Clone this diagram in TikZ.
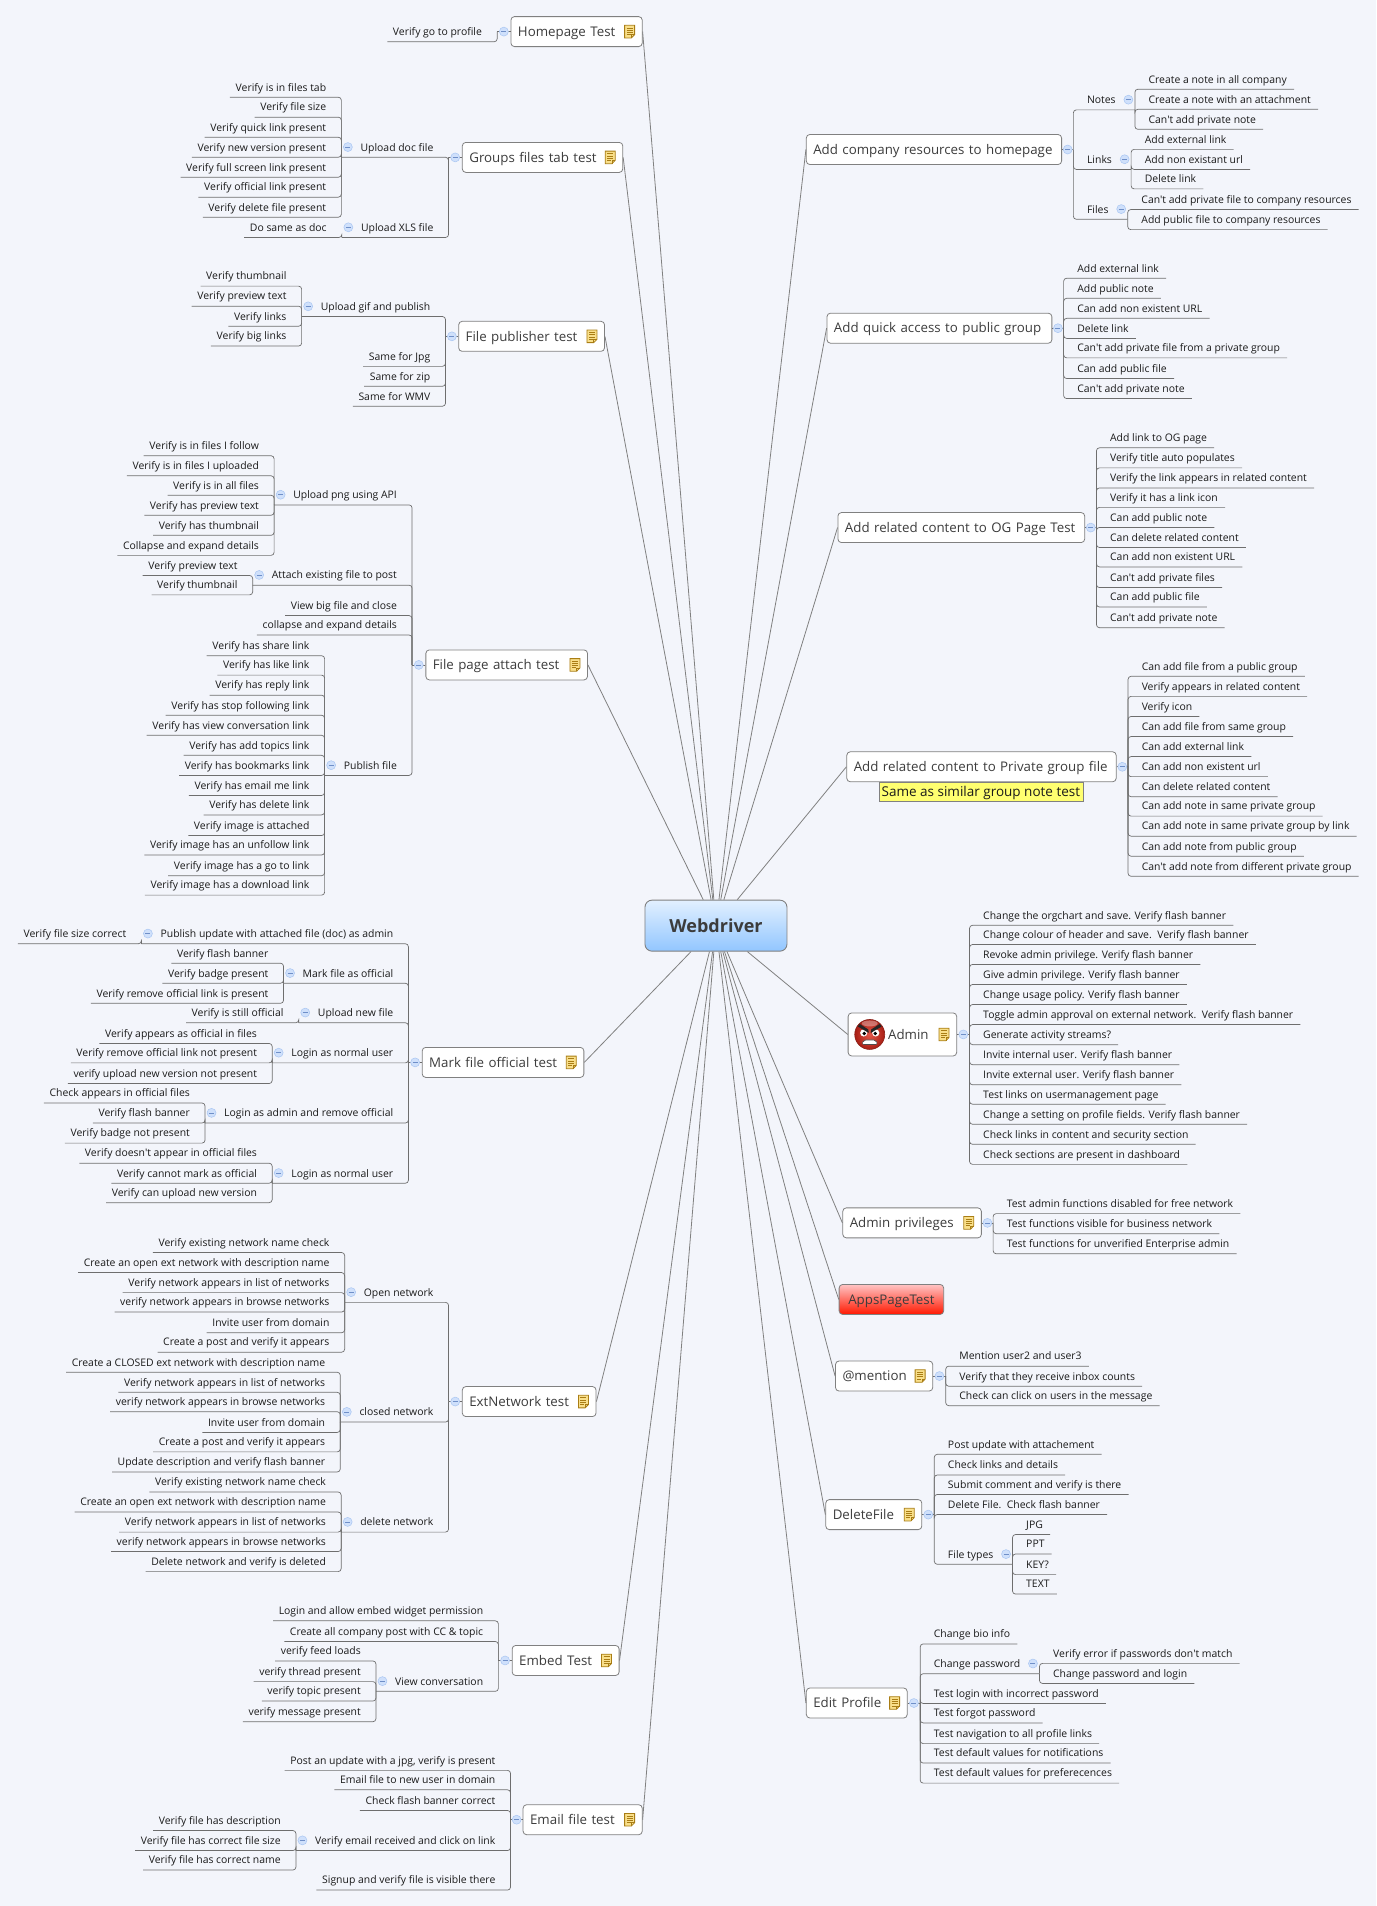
\documentclass[tikz,border=0pt]{standalone}
\usepackage{fontspec}
\usetikzlibrary{calc}
\setmainfont{Open Sans}[Ligatures=TeXOff]
\definecolor{bgc}{HTML}{F3F5FB}
\definecolor{linec}{HTML}{6E6E6E}
\definecolor{rootl}{HTML}{808080}
\definecolor{txtc}{HTML}{1A1A1A}
\definecolor{topc}{HTML}{3C3C3C}
\definecolor{collf}{HTML}{CFE0FB}
\definecolor{colld}{HTML}{A9C6F2}
\definecolor{colln}{HTML}{6F8FC8}
\definecolor{HTMLltblue}{HTML}{E2F0FF}
\definecolor{HTMLblue}{HTML}{92C6FF}
\definecolor{HTMLpink}{HTML}{FFC4C4}
\definecolor{HTMLred}{HTML}{FF1800}
\definecolor{HTMLyellow}{HTML}{FFFF70}
\definecolor{HTMLnote}{HTML}{F9DF8A}
\definecolor{HTMLnoted}{HTML}{A97D14}
\definecolor{HTMLfacel}{HTML}{E4584A}
\definecolor{HTMLfaced}{HTML}{A81E14}
\definecolor{HTMLfacee}{HTML}{8A2018}
\tikzset{
  conn/.style={draw=linec,line width=.7pt,rounded corners=3pt},
  rootline/.style={draw=rootl,line width=.8pt},
  leafbase/.style={inner xsep=0pt,inner ysep=0pt,yshift=-4pt,text=txtc,
    font=\fontsize{10.42}{12}\selectfont,text height=8pt,text depth=6pt},
  leafr/.style={leafbase,anchor=base west,
    execute at begin node={\hspace*{13.5pt}},execute at end node={\hspace*{7pt}}},
  leafl/.style={leafbase,anchor=base east,
    execute at begin node={\hspace*{5.5pt}},execute at end node={\hspace*{15pt}}},
  parr/.style={leafbase,anchor=base west,execute at begin node={\hspace*{13.5pt}},execute at end node={\hspace*{19pt}}},
  parl/.style={leafbase,anchor=base east,execute at begin node={\hspace*{19pt}},execute at end node={\hspace*{15pt}}},
  topic/.style={draw=rootl,line width=.8pt,rounded corners=3.5pt,fill=white,minimum height=30pt,
    inner xsep=7pt,inner ysep=0pt,align=left,text=topc,text height=9.4pt,text depth=0pt,font=\fontsize{13.3}{16}\selectfont},
  coll/.style={circle,draw=colld,fill=collf,line width=.5pt,minimum size=9pt,inner sep=0pt,
    path picture={\draw[colln,line width=.6pt] ([xshift=-2.5pt]path picture bounding box.center) -- ([xshift=2.5pt]path picture bounding box.center);}},
  rootnode/.style={draw=rootl,line width=.9pt,rounded corners=7pt,top color=HTMLltblue,bottom color=HTMLblue,
    minimum width=142pt,minimum height=51pt,inner sep=0pt,text=topc,font=\fontsize{18}{22}\selectfont\bfseries},
  appsnode/.style={draw=rootl,line width=.8pt,rounded corners=3.5pt,top color=HTMLpink,bottom color=HTMLred,
    minimum height=30pt,minimum width=104.5pt,inner sep=0pt,text=topc,text height=9.4pt,text depth=0pt,font=\fontsize{13.3}{16}\selectfont},
  notelabel/.style={draw=rootl,line width=.5pt,fill=HTMLyellow,minimum height=19pt,minimum width=204pt,inner sep=0pt,
    text=txtc,text height=9.6pt,text depth=0pt,font=\fontsize{13.5}{16}\selectfont},
  noteicon/.pic={
    \path[fill=HTMLnote,draw=HTMLnoted,line width=.8pt] (-5pt,6.3pt) -- (5pt,6.3pt) -- (5pt,-3pt) -- (1.8pt,-6.3pt) -- (-5pt,-6.3pt) -- cycle;
    \draw[HTMLnoted,line width=.6pt] (-3pt,3.8pt) -- (3pt,3.8pt) (-3pt,1.6pt) -- (3pt,1.6pt) (-3pt,-.6pt) -- (3pt,-.6pt) (-3pt,-2.8pt) -- (1pt,-2.8pt);
    \draw[HTMLnoted,line width=.6pt] (1.8pt,-6.3pt) -- (1.8pt,-3pt) -- (5pt,-3pt);
  },
  angryface/.pic={
    \shade[inner color=HTMLfacel,outer color=HTMLfaced] (0,0) circle[radius=15pt];
    \draw[HTMLfacee,line width=.6pt] (0,0) circle[radius=15pt];
    \fill[white,opacity=.35] (0,11pt) ellipse[x radius=8pt,y radius=3pt];
    \fill[white] (-6pt,1.5pt) circle[radius=3.6pt] (6pt,1.5pt) circle[radius=3.6pt];
    \fill[black] (-5.5pt,1pt) circle[radius=1.8pt] (5.5pt,1pt) circle[radius=1.8pt];
    \fill[black!85] (-12pt,8pt) -- (-1pt,1.5pt) -- (-1.5pt,5pt) -- (-10pt,10.5pt) -- cycle;
    \fill[black!85] (12pt,8pt) -- (1pt,1.5pt) -- (1.5pt,5pt) -- (10pt,10.5pt) -- cycle;
    \fill[white,draw=black!70,line width=.6pt,rounded corners=2pt] (-8pt,-10pt) -- (-6pt,-5.5pt) -- (6pt,-5.5pt) -- (8pt,-10pt) -- cycle;
  }
}
% leaf and parent-leaf macros: name, trunk point, text centre y, text
\newcommand{\lfR}[4]{\node[leafr] (#1) at (#2 |- 0,#3) {#4};\draw[conn] (#2) |- (#1.south east);}
\newcommand{\lfL}[4]{\node[leafl] (#1) at (#2 |- 0,#3) {#4};\draw[conn] (#2) |- (#1.south west);}
\newcommand{\prR}[4]{\node[parr] (#1) at (#2 |- 0,#3) {#4};\draw[conn] (#2) |- (#1.south east);
  \node[coll] (#1c) at ([xshift=-6.5pt,yshift=4pt]#1.base east) {};}
\newcommand{\prL}[4]{\node[parl] (#1) at (#2 |- 0,#3) {#4};\draw[conn] (#2) |- (#1.south west);
  \node[coll] (#1c) at ([xshift=6.5pt,yshift=4pt]#1.base west) {};}
% topics: name, left, right, y, text, trunk
\newcommand{\topL}[6]{%
  \pgfmathsetlengthmacro\tpw{(#3-#2)*1.2155pt-14pt}%
  \node[topic,text width=\tpw,anchor=west] (#1) at (#2,#4) {#5};
  \draw[rootline] (root) -- (#1.east);
  \pic at ([xshift=-13pt]#1.east) {noteicon};
  \coordinate (#1t) at (#6,#4);
  \draw[conn] (#1.west) -- (#1t);
  \node[coll] (#1c) at ($(#1.west)!.5!(#1t)$) {};}
\newcommand{\topR}[7]{%
  \pgfmathsetlengthmacro\tpw{(#3-#2)*1.2155pt-14pt}%
  \node[topic,text width=\tpw,anchor=west] (#1) at (#2,#4) {#5};
  \draw[rootline] (root) -- (#1.west);
  \ifx#7y\pic at ([xshift=-13pt]#1.east) {noteicon};\fi
  \coordinate (#1t) at (#6,#4);
  \draw[conn] (#1.east) -- (#1t);
  \node[coll] (#1c) at ($(#1.east)!.5!(#1t)$) {};}
\begin{document}
\begin{tikzpicture}[x=1.2155pt,y=-1.2155pt]
\fill[bgc] (0,0) rectangle (1132,1568);
\useasboundingbox (0,0) rectangle (1132,1568);
\node[rootnode] (root) at (589,761.5) {Webdriver};
% ---- left side ----
\topL{hp}{420}{528}{26}{Homepage Test}{409}
\lfL{hpa}{hpt}{26}{Verify go to profile}

\topL{gf}{380}{512}{129.5}{Groups files tab test}{369}
\prL{gfa}{gft}{121}{Upload doc file}
\lfL{gfa1}{gfa.south west}{71.6}{Verify is in files tab}
\lfL{gfa2}{gfa.south west}{88}{Verify file size}
\lfL{gfa3}{gfa.south west}{104.5}{Verify quick link present}
\lfL{gfa4}{gfa.south west}{121}{Verify new version present}
\lfL{gfa5}{gfa.south west}{137.4}{Verify full screen link present}
\lfL{gfa6}{gfa.south west}{153.8}{Verify official link present}
\lfL{gfa7}{gfa.south west}{170.3}{Verify delete file present}
\prL{gfb}{gft}{187}{Upload XLS file}
\lfL{gfb1}{gfb.south west}{187}{Do same as doc}

\topL{fp}{377}{497}{276.7}{File publisher test}{366.5}
\prL{fpa}{fpt}{252}{Upload gif and publish}
\lfL{fpa1}{fpa.south west}{227}{Verify thumbnail}
\lfL{fpa2}{fpa.south west}{243.5}{Verify preview text}
\lfL{fpa3}{fpa.south west}{260}{Verify links}
\lfL{fpa4}{fpa.south west}{276.3}{Verify big links}
\lfL{fpb}{fpt}{293}{Same for Jpg}
\lfL{fpc}{fpt}{309.4}{Same for zip}
\lfL{fpd}{fpt}{325.8}{Same for WMV}

\topL{pa}{350}{483}{547}{File page attach test}{339}
\prL{paa}{pat}{407}{Upload png using API}
\lfL{paa1}{paa.south west}{366.5}{Verify is in files I follow}
\lfL{paa2}{paa.south west}{383}{Verify is in files I uploaded}
\lfL{paa3}{paa.south west}{399}{Verify is in all files}
\lfL{paa4}{paa.south west}{415.5}{Verify has preview text}
\lfL{paa5}{paa.south west}{432}{Verify has thumbnail}
\lfL{paa6}{paa.south west}{448.5}{Collapse and expand details}
\prL{pab}{pat}{473}{Attach existing file to post}
\lfL{pab1}{pab.south west}{465}{Verify preview text}
\lfL{pab2}{pab.south west}{481}{Verify thumbnail}
\lfL{pac}{pat}{498}{View big file and close}
\lfL{pad}{pat}{514}{collapse and expand details}
\prL{pae}{pat}{629.5}{Publish file}
\lfL{pae1}{pae.south west}{531}{Verify has share link}
\lfL{pae2}{pae.south west}{547}{Verify has like link}
\lfL{pae3}{pae.south west}{563.5}{Verify has reply link}
\lfL{pae4}{pae.south west}{580}{Verify has stop following link}
\lfL{pae5}{pae.south west}{596.5}{Verify has view conversation link}
\lfL{pae6}{pae.south west}{613}{Verify has add topics link}
\lfL{pae7}{pae.south west}{629.5}{Verify has bookmarks link}
\lfL{pae8}{pae.south west}{646}{Verify has email me link}
\lfL{pae9}{pae.south west}{662}{Verify has delete link}
\lfL{pae10}{pae.south west}{679}{Verify image is attached}
\lfL{pae11}{pae.south west}{695}{Verify image has an unfollow link}
\lfL{pae12}{pae.south west}{712}{Verify image has a go to link}
\lfL{pae13}{pae.south west}{728}{Verify image has a download link}

\topL{mk}{347}{480}{874}{Mark file official test}{336}
\prL{mka}{mkt}{768}{Publish update with attached file (doc) as admin}
\lfL{mka1}{mka.south west}{768}{Verify file size correct}
\prL{mkb}{mkt}{800.5}{Mark file as official}
\lfL{mkb1}{mkb.south west}{784}{Verify flash banner}
\lfL{mkb2}{mkb.south west}{800.5}{Verify badge present}
\lfL{mkb3}{mkb.south west}{817}{Verify remove official link is present}
\prL{mkc}{mkt}{833}{Upload new file}
\lfL{mkc1}{mkc.south west}{833}{Verify is still official}
\prL{mkd}{mkt}{866}{Login as normal user}
\lfL{mkd1}{mkd.south west}{850}{Verify appears as official in files}
\lfL{mkd2}{mkd.south west}{866}{Verify remove official link not present}
\lfL{mkd3}{mkd.south west}{883}{verify upload new version not present}
\prL{mke}{mkt}{915.5}{Login as admin and remove official}
\lfL{mke1}{mke.south west}{899}{Check appears in official files}
\lfL{mke2}{mke.south west}{915.5}{Verify flash banner}
\lfL{mke3}{mke.south west}{932}{Verify badge not present}
\prL{mkf}{mkt}{965}{Login as normal user}
\lfL{mkf1}{mkf.south west}{948.5}{Verify doesn't appear in official files}
\lfL{mkf2}{mkf.south west}{965}{Verify cannot mark as official}
\lfL{mkf3}{mkf.south west}{981}{Verify can upload new version}

\topL{en}{380}{490}{1153}{ExtNetwork test}{369}
\prL{ena}{ent}{1063}{Open network}
\lfL{ena1}{ena.south west}{1022}{Verify existing network name check}
\lfL{ena2}{ena.south west}{1038.5}{Create an open ext network with description name}
\lfL{ena3}{ena.south west}{1055}{Verify network appears in list of networks}
\lfL{ena4}{ena.south west}{1071}{verify network appears in browse networks}
\lfL{ena5}{ena.south west}{1088}{Invite user from domain}
\lfL{ena6}{ena.south west}{1104}{Create a post and verify it appears}
\prL{enb}{ent}{1161.5}{closed network}
\lfL{enb1}{enb.south west}{1120.5}{Create a CLOSED ext network with description name}
\lfL{enb2}{enb.south west}{1137}{Verify network appears in list of networks}
\lfL{enb3}{enb.south west}{1153}{verify network appears in browse networks}
\lfL{enb4}{enb.south west}{1170}{Invite user from domain}
\lfL{enb5}{enb.south west}{1186}{Create a post and verify it appears}
\lfL{enb6}{enb.south west}{1202.5}{Update description and verify flash banner}
\prL{enc}{ent}{1252}{delete network}
\lfL{enc1}{enc.south west}{1219}{Verify existing network name check}
\lfL{enc2}{enc.south west}{1235.5}{Create an open ext network with description name}
\lfL{enc3}{enc.south west}{1252}{Verify network appears in list of networks}
\lfL{enc4}{enc.south west}{1268}{verify network appears in browse networks}
\lfL{enc5}{enc.south west}{1284.5}{Delete network and verify is deleted}

\topL{eb}{421}{509}{1366}{Embed Test}{410}
\lfL{eba}{ebt}{1325}{Login and allow embed widget permission}
\lfL{ebb}{ebt}{1342}{Create all company post with CC \& topic}
\prL{ebc}{ebt}{1383}{View conversation}
\lfL{ebc1}{ebc.south west}{1358}{verify feed loads}
\lfL{ebc2}{ebc.south west}{1375}{verify thread present}
\lfL{ebc3}{ebc.south west}{1391}{verify topic present}
\lfL{ebc4}{ebc.south west}{1408}{verify message present}

\topL{em}{430}{528}{1497}{Email file test}{420}
\lfL{ema}{emt}{1448}{Post an update with a jpg, verify is present}
\lfL{emb}{emt}{1464}{Email file to new user in domain}
\lfL{emc}{emt}{1481}{Check flash banner correct}
\prL{emd}{emt}{1514}{Verify email received and click on link}
\lfL{emd1}{emd.south west}{1497.5}{Verify file has description}
\lfL{emd2}{emd.south west}{1514}{Verify file has correct file size}
\lfL{emd3}{emd.south west}{1530}{Verify file has correct name}
\lfL{eme}{emt}{1546.5}{Signup and verify file is visible there}

% ---- right side ----
\topR{ac}{663}{873}{123}{Add company resources to homepage}{883}{n}
\prR{aca}{act}{82}{Notes}
\lfR{aca1}{aca.south east}{65}{Create a note in all company}
\lfR{aca2}{aca.south east}{81.5}{Create a note with an attachment}
\lfR{aca3}{aca.south east}{98}{Can't add private note}
\prR{acb}{act}{131}{Links}
\lfR{acb1}{acb.south east}{114.5}{Add external link}
\lfR{acb2}{acb.south east}{131}{Add non existant url}
\lfR{acb3}{acb.south east}{147}{Delete link}
\prR{acc}{act}{172}{Files}
\lfR{acc1}{acc.south east}{164}{Can't add private file to company resources}
\lfR{acc2}{acc.south east}{180.5}{Add public file to company resources}

\topR{aq}{680}{865}{270}{Add quick access to public group}{875}{n}
\lfR{aq1}{aqt}{220.5}{Add external link}
\lfR{aq2}{aqt}{237}{Add public note}
\lfR{aq3}{aqt}{253.5}{Can add non existent URL}
\lfR{aq4}{aqt}{270}{Delete link}
\lfR{aq5}{aqt}{286}{Can't add private file from a private group}
\lfR{aq6}{aqt}{303}{Can add public file}
\lfR{aq7}{aqt}{319.5}{Can't add private note}

\topR{og}{689}{892}{434}{Add related content to OG Page Test}{902}{n}
\lfR{og1}{ogt}{360}{Add link to OG page}
\lfR{og2}{ogt}{376.5}{Verify title auto populates}
\lfR{og3}{ogt}{393}{Verify the link appears in related content}
\lfR{og4}{ogt}{409}{Verify it has a link icon}
\lfR{og5}{ogt}{425.5}{Can add public note}
\lfR{og6}{ogt}{442}{Can delete related content}
\lfR{og7}{ogt}{458}{Can add non existent URL}
\lfR{og8}{ogt}{475}{Can't add private files}
\lfR{og9}{ogt}{491}{Can add public file}
\lfR{og10}{ogt}{508}{Can't add private note}

\topR{pg}{696.3}{917.9}{630.8}{Add related content to Private group file}{928}{n}
\node[notelabel] (pgn) at (806.9,651.2) {Same as similar group note test};
\lfR{pg1}{pgt}{548}{Can add file from a public group}
\lfR{pg2}{pgt}{564.5}{Verify appears in related content}
\lfR{pg3}{pgt}{581}{Verify icon}
\lfR{pg4}{pgt}{597.5}{Can add file from same group}
\lfR{pg5}{pgt}{614}{Can add external link}
\lfR{pg6}{pgt}{630.5}{Can add non existent url}
\lfR{pg7}{pgt}{647}{Can delete related content}
\lfR{pg8}{pgt}{663}{Can add note in same private group}
\lfR{pg9}{pgt}{679.5}{Can add note in same private group by link}
\lfR{pg10}{pgt}{696}{Can add note from public group}
\lfR{pg11}{pgt}{712.5}{Can't add note from different private group}

\begin{scope}[topic/.append style={minimum height=43pt}]
\topR{ad}{697.4}{786.7}{851}{\hspace*{33pt}Admin}{797.6}{y}
\end{scope}
\pic at ([xshift=22pt]ad.west) {angryface};
\lfR{ad1}{adt}{752.8}{Change the orgchart and save. Verify flash banner}
\lfR{ad2}{adt}{768.6}{Change colour of header and save.\ \ Verify flash banner}
\lfR{ad3}{adt}{785}{Revoke admin privilege. Verify flash banner}
\lfR{ad4}{adt}{801.5}{Give admin privilege. Verify flash banner}
\lfR{ad5}{adt}{818}{Change usage policy. Verify flash banner}
\lfR{ad6}{adt}{834.5}{Toggle admin approval on external network.\ \ Verify flash banner}
\lfR{ad7}{adt}{851}{Generate activity streams?}
\lfR{ad8}{adt}{867.5}{Invite internal user. Verify flash banner}
\lfR{ad9}{adt}{884}{Invite external user. Verify flash banner}
\lfR{ad10}{adt}{900}{Test links on usermanagement page}
\lfR{ad11}{adt}{916.5}{Change a setting on profile fields. Verify flash banner}
\lfR{ad12}{adt}{933}{Check links in content and security section}
\lfR{ad13}{adt}{949.5}{Check sections are present in dashboard}

\topR{ap}{693}{807}{1006}{Admin privileges}{817}{y}
\lfR{ap1}{apt}{990}{Test admin functions disabled for free network}
\lfR{ap2}{apt}{1006.5}{Test functions visible for business network}
\lfR{ap3}{apt}{1023}{Test functions for unverified Enterprise admin}

\node[appsnode,anchor=west] (apps) at (690,1069) {AppsPageTest};
\draw[rootline] (root) -- (apps.west);

\topR{mn}{687}{767}{1132}{@mention}{778}{y}
\lfR{mn1}{mnt}{1115.5}{Mention user2 and user3}
\lfR{mn2}{mnt}{1132}{Verify that they receive inbox counts}
\lfR{mn3}{mnt}{1148}{Check can click on users in the message}

\topR{df}{679}{758}{1246}{DeleteFile}{768.6}{y}
\lfR{df1}{dft}{1188}{Post update with attachement}
\lfR{df2}{dft}{1205}{Check links and details}
\lfR{df3}{dft}{1221}{Submit comment and verify is there}
\lfR{df4}{dft}{1237.5}{Delete File.\ \ Check flash banner}
\prR{df5}{dft}{1278.5}{File types}
\lfR{df51}{df5.south east}{1254}{JPG}
\lfR{df52}{df5.south east}{1270}{PPT}
\lfR{df53}{df5.south east}{1287}{KEY?}
\lfR{df54}{df5.south east}{1303}{TEXT}

\topR{ep}{663}{746}{1401}{Edit Profile}{757}{y}
\lfR{ep1}{ept}{1344}{Change bio info}
\prR{ep2}{ept}{1368.5}{Change password}
\lfR{ep21}{ep2.south east}{1360}{Verify error if passwords don't match}
\lfR{ep22}{ep2.south east}{1376.5}{Change password and login}
\lfR{ep3}{ept}{1393}{Test login with incorrect password}
\lfR{ep4}{ept}{1409}{Test forgot password}
\lfR{ep5}{ept}{1426}{Test navigation to all profile links}
\lfR{ep6}{ept}{1442}{Test default values for notifications}
\lfR{ep7}{ept}{1458.5}{Test default values for preferecences}
\end{tikzpicture}
\end{document}
